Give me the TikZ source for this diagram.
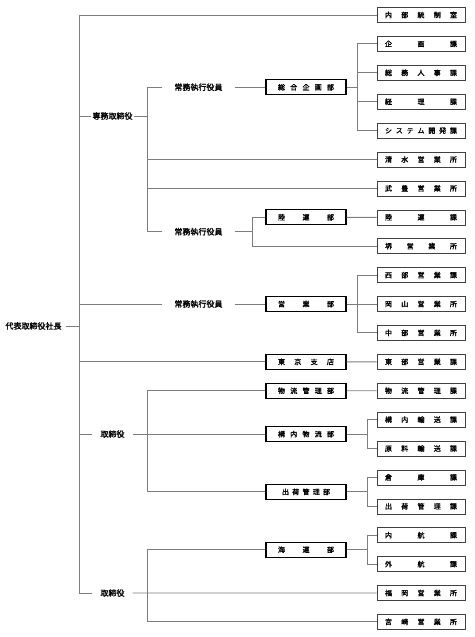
\documentclass[tikz,border=0pt]{standalone}
\usepackage{fontspec}
\setmainfont{Noto Sans CJK JP}[AutoFakeBold=1.6]
\definecolor{linegray}{RGB}{125,125,125}
\newcommand\rbtext[1]{\makebox[72pt][s]{#1}}
\newcommand\mbtext[1]{\makebox[56pt][s]{#1}}
\begin{document}
\begin{tikzpicture}[x=1pt,y=-1pt,
  conn/.style={draw=linegray,line width=0.9pt},
  rbox/.style={draw=black!75,line width=0.6pt,minimum width=88pt,minimum height=15pt,inner sep=0pt,font=\fontsize{7}{8}\selectfont\bfseries},
  mbox/.style={draw=black,line width=1.2pt,minimum width=80pt,minimum height=15pt,inner sep=0pt,font=\fontsize{7}{8}\selectfont\bfseries},
  lbl/.style={inner ysep=2pt,font=\fontsize{8}{9}\selectfont\bfseries}]
\useasboundingbox (0,0) rectangle (474,637);
% right boxes
\foreach \i/\t in {0/{内 部 統 制 室},1/{企 画 課},2/{総 務 人 事 課},3/{経 理 課},4/{シ ス テ ム 開 発 課},
  5/{清 水 営 業 所},6/{武 豊 営 業 所},7/{陸 運 課},8/{堺 営 業 所},9/{西 部 営 業 課},10/{岡 山 営 業 所},
  11/{中 部 営 業 所},12/{東 部 営 業 課},13/{物 流 管 理 課},14/{構 内 輸 送 課},15/{原 料 輸 送 課},
  16/{倉 庫 課},17/{出 荷 管 理 課},18/{内 航 課},19/{外 航 課},20/{福 岡 営 業 所},21/{宮 崎 営 業 所}}
  \node[rbox] (rb\i) at (421,{15+28.9*\i}) {\rbtext{\t}};
% middle boxes
\node[mbox] (sogo) at (306,87.25) {\mbtext{総 合 企 画 部}};
\node[mbox] (riku) at (306,217.3) {\mbtext{陸 運 部}};
\node[mbox] (eigyo) at (306,304) {\mbtext{営 業 部}};
\node[mbox] (tokyo) at (306,361.8) {\mbtext{東 京 支 店}};
\node[mbox] (butsu) at (306,390.7) {\mbtext{物 流 管 理 部}};
\node[mbox] (kounai) at (306,434.05) {\mbtext{構 内 物 流 部}};
\node[mbox] (shukka) at (306,491.85) {\makebox[48pt][s]{出 荷 管 理 部}};
\node[mbox] (kaiun) at (306,549.65) {\mbtext{海 運 部}};
% labels
\node[lbl,inner xsep=1pt] (senmu) at (112.5,116) {専務取締役};
\node[lbl,inner xsep=12pt] (joumu1) at (198.5,87.25) {常務執行役員};
\node[lbl,inner xsep=12pt] (joumu2) at (198.5,231.75) {常務執行役員};
\node[lbl,inner xsep=12pt] (joumu3) at (198.5,304) {常務執行役員};
\node[lbl,inner xsep=4pt] (pres) at (33.5,326) {代表取締役社長};
\node[lbl,inner xsep=8pt] (tori1) at (112.5,434.05) {取締役};
\node[lbl,inner xsep=8pt] (tori2) at (112.5,593) {取締役};
% helper coordinates
\coordinate (t0) at (79,15);
\coordinate (tE) at (79,593);
\coordinate (xa) at (147,0);
\coordinate (xb) at (252,0);
\coordinate (xc) at (357,0);
\coordinate (xd) at (367,0);
% trunk
\draw[conn] (rb0) -- (t0) -- (tE) -- (tori2);
\draw[conn] (tori2) -- (rb20);
\foreach \n in {senmu,joumu3,pres,tokyo,tori1}
  \draw[conn] (\n) -- (\n -| t0);
% senmu branch
\draw[conn] (senmu) -- (senmu -| xa);
\draw[conn] (joumu1 -| xa) -- (joumu2 -| xa);
\foreach \n in {joumu1,joumu2,rb5,rb6}
  \draw[conn] (\n) -- (\n -| xa);
\draw[conn] (joumu1) -- (sogo);
\draw[conn] (sogo) -- (sogo -| xc);
\draw[conn] (rb1 -| xc) -- (rb4 -| xc);
\foreach \n in {rb1,rb2,rb3,rb4}
  \draw[conn] (\n) -- (\n -| xc);
% joumu2 branch
\draw[conn] (joumu2) -- (joumu2 -| xb);
\draw[conn] (riku -| xb) -- (rb8 -| xb);
\draw[conn] (riku) -- (riku -| xb);
\draw[conn] (rb8) -- (rb8 -| xb);
\draw[conn] (riku) -- (rb7);
% joumu3 branch
\draw[conn] (joumu3) -- (eigyo);
\draw[conn] (eigyo) -- (eigyo -| xc);
\draw[conn] (rb9 -| xc) -- (rb11 -| xc);
\foreach \n in {rb9,rb10,rb11}
  \draw[conn] (\n) -- (\n -| xc);
% tokyo
\draw[conn] (tokyo) -- (rb12);
% tori1 branch
\draw[conn] (tori1) -- (tori1 -| xa);
\draw[conn] (butsu -| xa) -- (shukka -| xa);
\foreach \n in {butsu,kounai,shukka}
  \draw[conn] (\n) -- (\n -| xa);
\draw[conn] (butsu) -- (rb13);
\draw[conn] (kounai) -- (kounai -| xd);
\draw[conn] (rb14 -| xd) -- (rb15 -| xd);
\foreach \n in {rb14,rb15}
  \draw[conn] (\n) -- (\n -| xd);
\draw[conn] (shukka) -- (shukka -| xd);
\draw[conn] (rb16 -| xd) -- (rb17 -| xd);
\foreach \n in {rb16,rb17}
  \draw[conn] (\n) -- (\n -| xd);
% tori2 branch
\draw[conn] (kaiun -| xa) -- (rb21 -| xa);
\foreach \n in {kaiun,rb21}
  \draw[conn] (\n) -- (\n -| xa);
\draw[conn] (kaiun) -- (kaiun -| xd);
\draw[conn] (rb18 -| xd) -- (rb19 -| xd);
\foreach \n in {rb18,rb19}
  \draw[conn] (\n) -- (\n -| xd);
\end{tikzpicture}
\end{document}
